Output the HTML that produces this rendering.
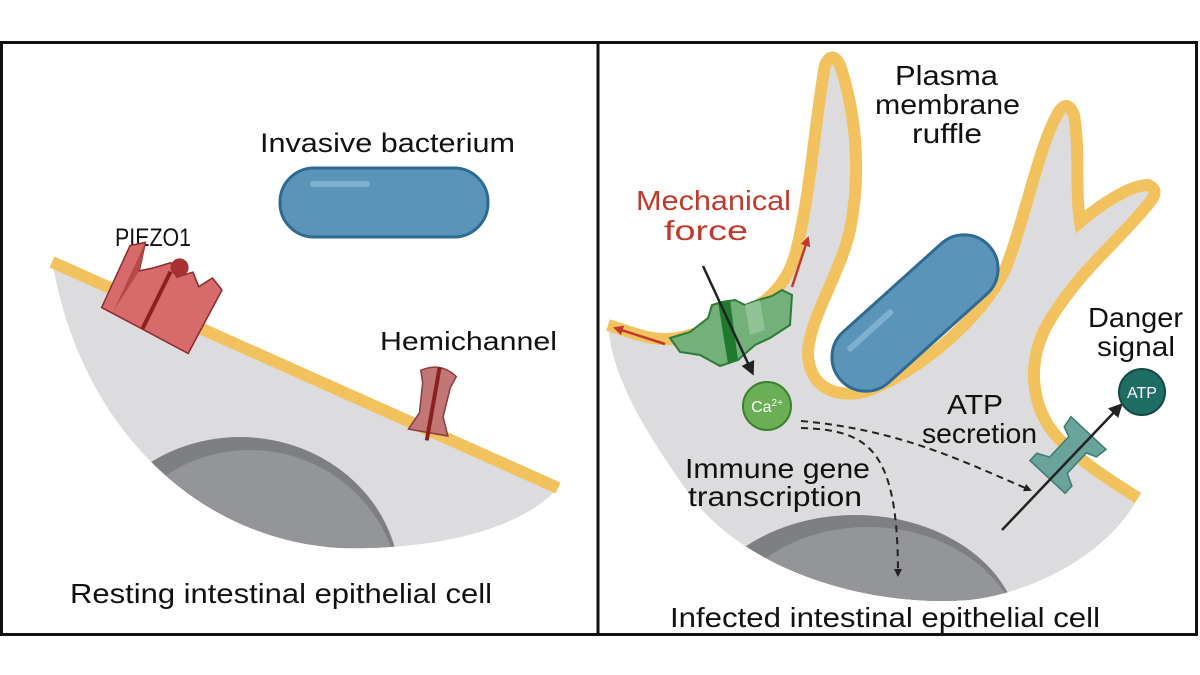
<!DOCTYPE html>
<html><head><meta charset="utf-8"><style>
html,body{margin:0;padding:0;background:#fff;width:1200px;height:675px;overflow:hidden;position:relative;}
svg{display:block;position:absolute;left:0;top:0;}
text{font-family:"Liberation Sans",sans-serif;}
</style></head><body>
<svg width="1200" height="675" viewBox="0 0 1200 675" xmlns="http://www.w3.org/2000/svg" overflow="hidden">
<defs>
<clipPath id="cl"><path d="M52,260 L560,486 C520,532 430,550 340,548 C200,540 80,430 52,260 Z"/></clipPath>
<clipPath id="cr"><path d="M608,325 C640,335 660,345 690,335 C760,315 785,290 795,255 C810,200 815,120 825,65 Q832,50 840,65 C855,110 862,170 850,230 C840,275 808,320 808,355 C810,390 840,400 870,390 C920,370 980,320 1005,270 C1025,220 1040,140 1060,110 Q1068,100 1074,115 C1080,150 1075,190 1080,222 C1100,205 1130,185 1148,185 Q1160,190 1150,202 C1120,240 1080,270 1050,320 C1025,360 1030,410 1060,440 C1085,465 1110,480 1138,498 C1110,550 1040,592 968,600 C860,608 740,565 690,495 C640,425 612,375 608,325 Z"/></clipPath>
<marker id="ah" markerWidth="8" markerHeight="8" refX="6" refY="4" orient="auto" markerUnits="userSpaceOnUse"><path d="M0,0 L8,4 L0,8 Z" fill="#222"/></marker>
<marker id="ahb" markerWidth="14" markerHeight="14" refX="10" refY="7" orient="auto" markerUnits="userSpaceOnUse"><path d="M0,0 L14,7 L0,14 Z" fill="#222"/></marker>
<marker id="ahr" markerWidth="10" markerHeight="10" refX="8" refY="5" orient="auto" markerUnits="userSpaceOnUse"><path d="M0,0 L10,5 L0,10 Z" fill="#c0392b"/></marker>
</defs>

<rect x="1.5" y="42.5" width="1195" height="592" fill="none" stroke="#111" stroke-width="3"/>
<line x1="598" y1="42" x2="598" y2="635" stroke="#111" stroke-width="3"/>

<!-- LEFT PANEL -->
<path d="M52,260 L560,486 C520,532 430,550 340,548 C200,540 80,430 52,260 Z" fill="#dcdcdf"/>
<g clip-path="url(#cl)">
<ellipse cx="240" cy="585" rx="160" ry="148" fill="#7e7f82"/>
<ellipse cx="250" cy="598" rx="150" ry="148" fill="#949598"/>
</g>
<line x1="52" y1="262" x2="558" y2="488" stroke="#f2c25e" stroke-width="12"/>

<rect x="280" y="168" width="208" height="69" rx="34" fill="#5a94b8" stroke="#2f6a92" stroke-width="3"/>
<rect x="310" y="181" width="60" height="6" rx="3" fill="#7fb0cf"/>
<text x="260" y="152" font-size="27" textLength="255" lengthAdjust="spacingAndGlyphs" fill="#111">Invasive bacterium</text>

<text x="115" y="246" font-size="25" textLength="76" lengthAdjust="spacingAndGlyphs" fill="#111">PIEZO1</text>
<g transform="translate(160,300) rotate(28)">
<path d="M-52,-34 L-40,-44 L-32,-16 L-20,-26 L-8,-38 L4,-28 L16,-40 L28,-30 L36,-44 L50,-38 L50,34 L-48,34 Z" fill="#d76a6a" stroke="#8a2a2a" stroke-width="1.5"/>
<circle cx="2" cy="-38" r="9" fill="#a83030"/>
<path d="M-40,-44 L-32,-16 L-36,30 Z" fill="#b84848"/>
<path d="M-4,-30 L-2,34" stroke="#8a2020" stroke-width="4"/>
</g>
<text x="380" y="350" font-size="26" textLength="177" lengthAdjust="spacingAndGlyphs" fill="#111">Hemichannel</text>
<g transform="translate(433,405) rotate(10)">
<path d="M-18,-32 Q0,-44 18,-32 L14,-20 L12,10 L20,28 L-20,28 L-12,10 L-14,-20 Z" fill="#c27676" stroke="#8a3b3b" stroke-width="1.5"/>
<line x1="0" y1="-38" x2="0" y2="36" stroke="#8a2020" stroke-width="4"/>
</g>

<text x="70" y="603" font-size="28" textLength="422" lengthAdjust="spacingAndGlyphs" fill="#111">Resting intestinal epithelial cell</text>

<!-- RIGHT PANEL -->
<path d="M608,325 C640,335 660,345 690,335 C760,315 785,290 795,255 C810,200 815,120 825,65 Q832,50 840,65 C855,110 862,170 850,230 C840,275 808,320 808,355 C810,390 840,400 870,390 C920,370 980,320 1005,270 C1025,220 1040,140 1060,110 Q1068,100 1074,115 C1080,150 1075,190 1080,222 C1100,205 1130,185 1148,185 Q1160,190 1150,202 C1120,240 1080,270 1050,320 C1025,360 1030,410 1060,440 C1085,465 1110,480 1138,498 C1110,550 1040,592 968,600 C860,608 740,565 690,495 C640,425 612,375 608,325 Z" fill="#dcdcdf"/>
<g clip-path="url(#cr)">
<ellipse cx="855" cy="640" rx="165" ry="125" fill="#7e7f82"/>
<ellipse cx="868" cy="652" rx="155" ry="125" fill="#949598"/>
</g>
<path d="M608,325 C640,335 660,345 690,335 C760,315 785,290 795,255 C810,200 815,120 825,65 Q832,50 840,65 C855,110 862,170 850,230 C840,275 808,320 808,355 C810,390 840,400 870,390 C920,370 980,320 1005,270 C1025,220 1040,140 1060,110 Q1068,100 1074,115 C1080,150 1075,190 1080,222 C1100,205 1130,185 1148,185 Q1160,190 1150,202 C1120,240 1080,270 1050,320 C1025,360 1030,410 1060,440 C1085,465 1110,480 1138,498" fill="none" stroke="#f2c25e" stroke-width="12"/>

<g transform="translate(915,313) rotate(-42)">
<rect x="-100" y="-34" width="200" height="68" rx="34" fill="#5a94b8" stroke="#2f6a92" stroke-width="3"/>
<rect x="-75" y="-20" width="60" height="6" rx="3" fill="#7fb0cf"/>
</g>

<line x1="792" y1="287" x2="808" y2="238" stroke="#c0392b" stroke-width="2.5" marker-end="url(#ahr)"/>
<line x1="665" y1="344" x2="615" y2="328" stroke="#c0392b" stroke-width="2.5" marker-end="url(#ahr)"/>

<path d="M670,338 L690,332 L708,318 L712,305 L722,302 L735,300 L745,305 L758,300 L772,296 L782,290 L792,295 L790,325 L770,338 L755,345 L738,360 L720,366 L700,355 L680,352 Z" fill="#74b07a" stroke="#2f7a3a" stroke-width="2"/>
<path d="M718,302 L730,300 L738,360 L728,364 Z" fill="#1f7a30"/>
<path d="M745,305 L760,300 L765,330 L750,335 Z" fill="#8fc395"/>
<line x1="703" y1="266" x2="752" y2="372" stroke="#222" stroke-width="2.5" marker-end="url(#ahb)"/>

<circle cx="767" cy="406" r="24" fill="#6aaf55" stroke="#3d7f2c" stroke-width="2"/>
<text x="767" y="412" font-size="16" text-anchor="middle" fill="#fff">Ca<tspan font-size="10" dy="-6">2+</tspan></text>

<path d="M801,421 C900,430 960,460 1030,490" fill="none" stroke="#222" stroke-width="2" stroke-dasharray="7,5" marker-end="url(#ah)"/>
<path d="M801,428 C870,430 898,450 898,575" fill="none" stroke="#222" stroke-width="2" stroke-dasharray="7,5" marker-end="url(#ah)"/>

<g transform="translate(1068,455) rotate(43)">
<path d="M-24,-30 L24,-30 L22,-18 L12,-14 L12,14 L24,20 L24,30 L-24,30 L-24,20 L-12,14 L-12,-14 L-22,-18 Z" fill="#6aa39c" stroke="#3d7a72" stroke-width="1.5"/>
</g>
<line x1="1002" y1="530" x2="1120" y2="406" stroke="#222" stroke-width="2.5" marker-end="url(#ahb)"/>

<circle cx="1142" cy="392" r="23" fill="#1f6e66" stroke="#134a44" stroke-width="2"/>
<text x="1142" y="398" font-size="16" text-anchor="middle" fill="#fff">ATP</text>

<g font-size="28" fill="#111">
<text x="895" y="85" textLength="103" lengthAdjust="spacingAndGlyphs">Plasma</text>
<text x="875" y="114" textLength="145" lengthAdjust="spacingAndGlyphs">membrane</text>
<text x="912" y="143" textLength="70" lengthAdjust="spacingAndGlyphs">ruffle</text>
<text x="1088" y="327" textLength="95" lengthAdjust="spacingAndGlyphs">Danger</text>
<text x="1097" y="356" textLength="78" lengthAdjust="spacingAndGlyphs">signal</text>
<text x="947" y="414" textLength="56" lengthAdjust="spacingAndGlyphs">ATP</text>
<text x="922" y="443" textLength="115" lengthAdjust="spacingAndGlyphs">secretion</text>
<text x="685" y="478" textLength="185" lengthAdjust="spacingAndGlyphs">Immune gene</text>
<text x="688" y="506" textLength="174" lengthAdjust="spacingAndGlyphs">transcription</text>
<text x="670" y="627" textLength="430" lengthAdjust="spacingAndGlyphs">Infected intestinal epithelial cell</text>
</g>
<g font-size="28" fill="#c0392b">
<text x="636" y="210" textLength="155" lengthAdjust="spacingAndGlyphs">Mechanical</text>
<text x="664" y="240" textLength="84" lengthAdjust="spacingAndGlyphs">force</text>
</g>
</svg>
</body></html>
